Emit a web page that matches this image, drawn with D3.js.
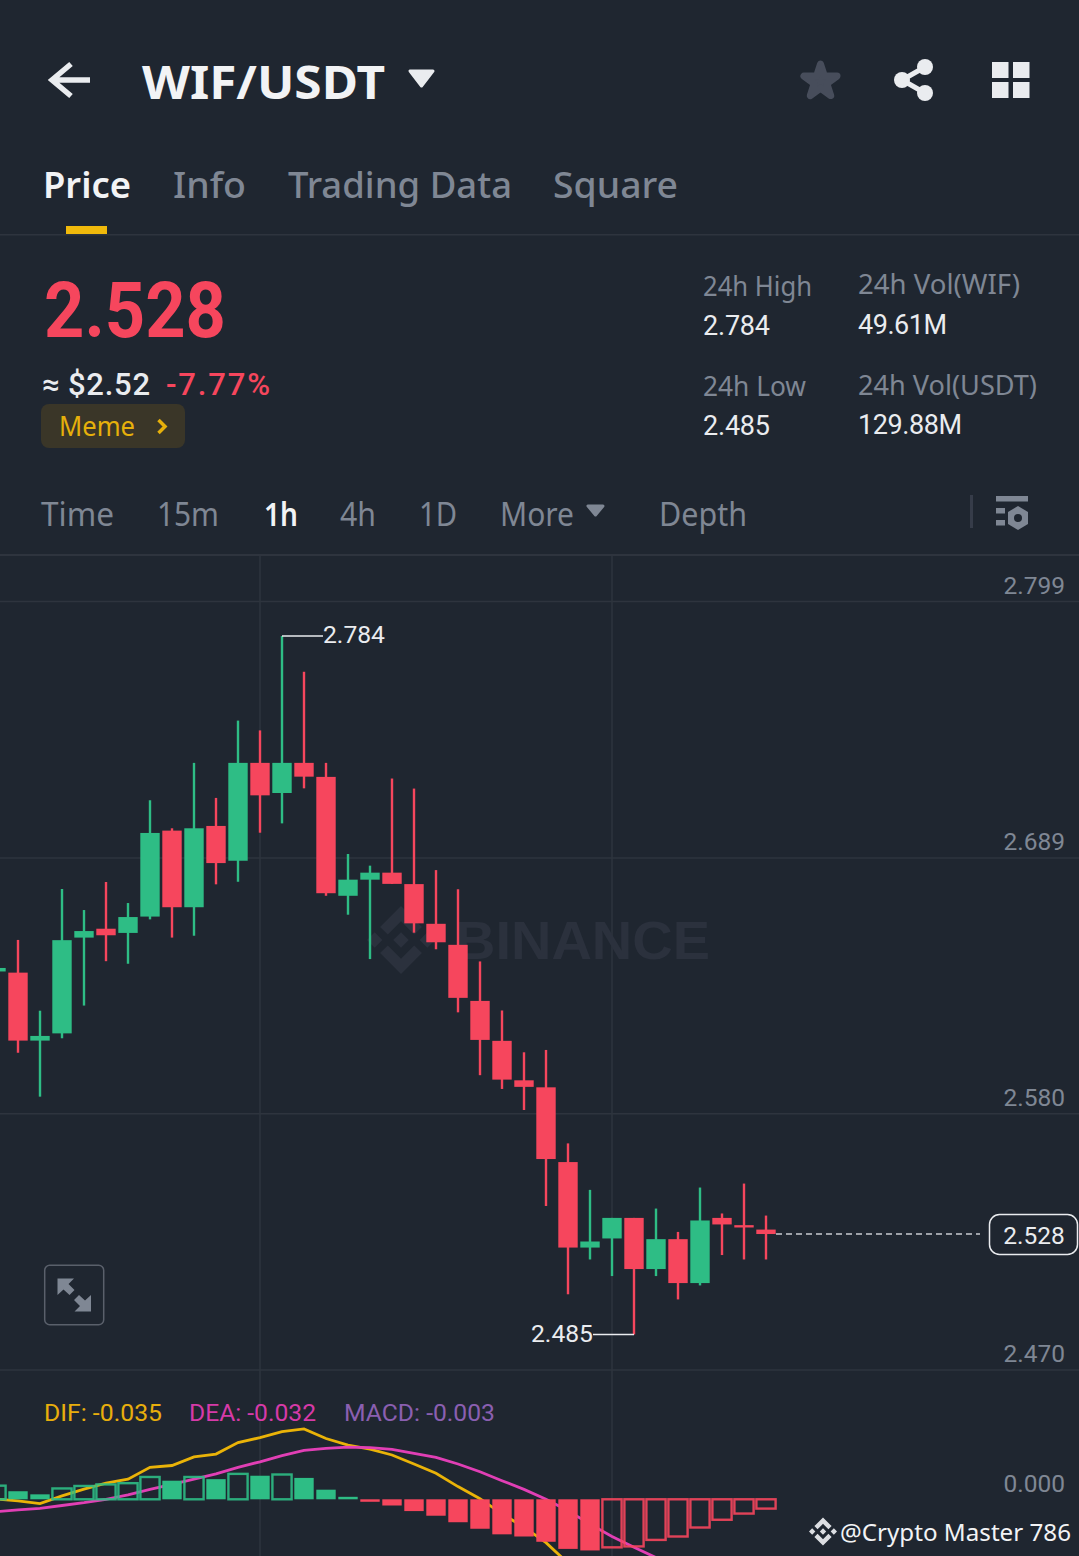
<!DOCTYPE html>
<html><head><meta charset="utf-8">
<script src="https://cdn.jsdelivr.net/npm/d3@7/dist/d3.min.js"></script>
<style>html,body{margin:0;padding:0;background:#1f2630}svg{display:block}</style></head>
<body><svg id="c" width="1079" height="1556"></svg>
<script>
// ---- candles (index 0 is the partly hidden candle at the left edge)
const opens  = [2.6404,2.6399,2.6108,2.6139,2.6549,2.6587,2.6569,2.6639,2.7007,2.6679,2.7027,2.6878,2.7297,2.7168,2.7297,2.7237,2.6728,2.6797,2.6827,2.6778,2.6608,2.6518,2.6278,2.6107,2.5938,2.5908,2.5588,2.5222,2.5261,2.5349,2.5130,2.5258,2.5070,2.5349,2.5318,2.5299];
const closes = [2.6419,2.6108,2.6128,2.6538,2.6577,2.6559,2.6637,2.6997,2.6679,2.7017,2.6868,2.7297,2.7158,2.7297,2.7238,2.6739,2.6797,2.6827,2.6779,2.6610,2.6529,2.6291,2.6111,2.5941,2.5910,2.5601,2.5222,2.5248,2.5349,2.5130,2.5258,2.5070,2.5338,2.5321,2.5308,2.5280];
const highs  = [2.6419,2.6539,2.6236,2.6757,2.6667,2.6787,2.6697,2.7137,2.7017,2.7297,2.7147,2.7478,2.7436,2.7840,2.7687,2.7297,2.6907,2.6857,2.7230,2.7187,2.6838,2.6756,2.6447,2.6237,2.6058,2.6068,2.5668,2.5469,2.5349,2.5349,2.5389,2.5289,2.5479,2.5368,2.5496,2.5359];
const lows   = [2.6404,2.6056,2.5868,2.6118,2.6258,2.6448,2.6437,2.6627,2.6549,2.6557,2.6777,2.6788,2.6998,2.7038,2.7188,2.6728,2.6647,2.6457,2.6779,2.6570,2.6499,2.6229,2.5960,2.5901,2.5811,2.5400,2.5022,2.5171,2.5100,2.4850,2.5100,2.5000,2.5060,2.5190,2.5171,2.5171];
// ---- MACD panel
const macdBars = [.0044,.0026,.0016,.0035,.0043,.0048,.0052,.0072,.0060,.0072,.0065,.0082,.0076,.0080,.0069,.0031,.0008,-.0008,-.0020,-.0038,-.0053,-.0074,-.0095,-.0113,-.0120,-.0137,-.0160,-.0165,-.0155,-.0152,-.0131,-.0120,-.0091,-.0066,-.0046,-.0030];
const difLine  = [.0001,-.0005,-.0014,.0011,.0033,.0052,.0065,.0103,.0109,.0137,.0146,.0183,.0199,.0218,.0227,.0196,.0175,.0162,.0143,.0114,.0084,.0041,.0002,-.0047,-.0090,-.0140,-.0206,-.0245];
const deaLine  = [-.0040,-.0034,-.0029,-.0020,-.0011,.0000,.0014,.0032,.0048,.0065,.0082,.0103,.0121,.0141,.0158,.0164,.0168,.0167,.0161,.0148,.0135,.0114,.0089,.0060,.0032,.0000,-.0037,-.0080,-.0120,-.0155,-.0188,-.0222];
const priceTicks = [2.799,2.6892,2.5797,2.470];
const macdTicks = [0];
const gridCandles = [12,28];
const lastPrice = 2.528, highPrice = 2.784, lowPrice = 2.485;
const highIndex = 13, lowIndex = 29;
// ---- text
const tabs = ["Price","Info","Trading Data","Square"];
const intervals = ["Time","15m","1h","4h","1D","More","Depth"];
const macdLegend = ["DIF: -0.035","DEA: -0.032","MACD: -0.003"];

const BG="#1f2630",UP="#2ebd85",DOWN="#f6465d",GREY="#7f8794",LIGHT="#eaecef",GRID="#2e343e",GOLD="#f0b90b";
const HEAD='"Noto Sans",sans-serif', NUM='Roboto,sans-serif';
const svg=d3.select("#c");
svg.append("rect").attr("width",1079).attr("height",1556).attr("fill",BG);

const x=d3.scaleLinear().domain([0,35]).range([-4,766]);
const y=d3.scaleLinear().domain([2.799,2.470]).range([601,1369.5]);
const m=d3.scaleLinear().domain([0,0.01]).range([1499.3,1468.3]);
const BW=19.4;

function t(s,px,py,size,col,o={}){
  const e=svg.append("text").attr("x",px).attr("y",py).attr("font-size",size).attr("fill",col)
    .attr("font-family",o.f||HEAD).attr("font-weight",o.w||400).attr("dominant-baseline","central")
    .attr("text-anchor",o.a||"start").text(s);
  if(o.len) e.attr("textLength",o.len).attr("lengthAdjust",o.adj||"spacingAndGlyphs");
  return e;
}
const logoPaths=["M38.73 53.2l24.59-24.58 24.6 24.6 14.3-14.31L63.32 0 24.42 38.9z","M0 63.31l14.3-14.31 14.31 14.31-14.31 14.3z","M38.73 73.41l24.59 24.59 24.6-24.6 14.31 14.29-38.9 38.91-38.91-38.88-.02-.02z","M98 63.31l14.3-14.31 14.31 14.31-14.31 14.3z","M77.83 63.3L63.32 48.78 52.59 59.51l-1.24 1.23-2.54 2.54 14.51 14.5 14.51-14.47z"];
function logo(cx,cy,size,col){
  const g=svg.append("g").attr("transform",`translate(${cx-size/2},${cy-size/2}) scale(${size/126.61})`).attr("fill",col);
  logoPaths.forEach(p=>g.append("path").attr("d",p));
}

// ---- header
svg.append("path").attr("d","M90 80H54M71 64L52 80L71 96").attr("fill","none").attr("stroke",LIGHT).attr("stroke-width",5.5);
t("WIF/USDT",142,81,46,"#f2f3f5",{w:700,len:243});
svg.append("path").attr("d","M410 71H433L421.5 86Z").attr("fill",LIGHT).attr("stroke",LIGHT).attr("stroke-width",3).attr("stroke-linejoin","round");
svg.append("path").attr("d",d3.symbol(d3.symbolStar,340)).attr("transform","translate(820.5,81.5)").attr("fill","#474d5b").attr("stroke","#474d5b").attr("stroke-width",7).attr("stroke-linejoin","round");
svg.append("path").attr("d","M925 67L902 80L925 93").attr("fill","none").attr("stroke",LIGHT).attr("stroke-width",5);
[[925,67],[902,80],[925,93]].forEach(c=>svg.append("circle").attr("cx",c[0]).attr("cy",c[1]).attr("r",8).attr("fill",LIGHT));
[[992,62],[1013,62],[992,82],[1013,82]].forEach(c=>svg.append("rect").attr("x",c[0]).attr("y",c[1]).attr("width",16.5).attr("height",16).attr("fill",LIGHT));

// ---- tabs
const tabX=[[43,88],[173,73],[288,224],[553,125]];
tabs.forEach((s,i)=>t(s,tabX[i][0],184,36,i==0?"#f2f3f5":GREY,{w:i==0?600:500,len:tabX[i][1]}));
svg.append("rect").attr("x",66).attr("y",226).attr("width",41).attr("height",8).attr("fill",GOLD);
svg.append("rect").attr("x",0).attr("y",234).attr("width",1079).attr("height",1.5).attr("fill",GRID);

// ---- price block
t(lastPrice.toFixed(3),44,311,77,DOWN,{w:700,f:NUM,len:182});
t("≈",42,384,31,LIGHT,{w:500,f:NUM});
t("$2.52",68,384,31,LIGHT,{w:500,f:NUM,len:82,adj:"spacing"});
t("-7.77%",166,384,31,DOWN,{w:500,f:NUM,len:104,adj:"spacing"});
svg.append("rect").attr("x",41).attr("y",404).attr("width",144).attr("height",44).attr("rx",8).attr("fill","#3a3628");
t("Meme",59,425,28,"#e6b00b",{len:76});
svg.append("path").attr("d","M158.5 420L165 426.5L158.5 433").attr("fill","none").attr("stroke","#e6b00b").attr("stroke-width",3.5);
t("24h High",703,285,28,GREY,{len:109});
t("2.784",703,326,27,LIGHT,{f:NUM,len:67,adj:"spacing"});
t("24h Vol(WIF)",858,283,28,GREY,{len:162});
t("49.61M",858,325,27,LIGHT,{f:NUM,len:89,adj:"spacing"});
t("24h Low",703,385,28,GREY,{len:103});
t("2.485",703,426,27,LIGHT,{f:NUM,len:67,adj:"spacing"});
t("24h Vol(USDT)",858,384,28,GREY,{len:179});
t("129.88M",858,425,27,LIGHT,{f:NUM,len:104,adj:"spacing"});

// ---- interval row
const intX=[[41,73],[157,62],[264,34],[340,36],[419,38],[500,74],[659,88]];
intervals.forEach((s,i)=>t(s,intX[i][0],513,32,i==2?"#f2f3f5":GREY,{w:i==2?600:400,len:intX[i][1]}));
svg.append("path").attr("d","M588 506H603L595.5 515Z").attr("fill",GREY).attr("stroke",GREY).attr("stroke-width",3).attr("stroke-linejoin","round");
svg.append("rect").attr("x",970).attr("y",495).attr("width",3).attr("height",33).attr("fill","#363c49");
[[996,496,32,5.5],[996,508,9,5.5],[996,520,9,5.5]].forEach(r=>svg.append("rect").attr("x",r[0]).attr("y",r[1]).attr("width",r[2]).attr("height",r[3]).attr("fill",GREY));
svg.append("path").attr("d","M1018 506L1028 512V524L1018 530L1008 524V512Z").attr("fill",GREY);
svg.append("circle").attr("cx",1018).attr("cy",518).attr("r",4).attr("fill",BG);
svg.append("rect").attr("x",0).attr("y",554).attr("width",1079).attr("height",2).attr("fill",GRID);

// ---- grid + axes
const yAxis=d3.axisLeft(y).tickValues(priceTicks).tickFormat(d3.format(".3f")).tickSize(1079);
const gy=svg.append("g").attr("transform","translate(1079,0)").call(yAxis);
gy.select(".domain").remove();
gy.selectAll("line").attr("stroke",GRID).attr("stroke-width",1.5);
gy.selectAll("text").attr("x",-14).attr("dy",-16.5).attr("dominant-baseline","central").attr("font-size",24.5).attr("font-family",NUM).attr("fill",GREY).attr("text-anchor","end");
gridCandles.forEach(i=>svg.append("line").attr("x1",x(i)).attr("x2",x(i)).attr("y1",556).attr("y2",1556).attr("stroke",GRID).attr("stroke-width",1.5));
const mAxis=d3.axisLeft(m).tickValues(macdTicks).tickFormat(d3.format(".3f")).tickSize(0);
const gm=svg.append("g").attr("transform","translate(1079,0)").call(mAxis);
gm.select(".domain").remove();
gm.selectAll("text").attr("x",-14).attr("dy",-16.5).attr("dominant-baseline","central").attr("font-size",24.5).attr("font-family",NUM).attr("fill",GREY).attr("text-anchor","end");

// ---- watermark
logo(401,940,68,"#2b313d");
t("BINANCE",455,940,54,"#2b313d",{w:700,f:'"Liberation Sans",sans-serif',len:255});

// ---- candles
const idx=d3.range(opens.length);
const col=i=>closes[i]<opens[i]?DOWN:UP;
svg.append("g").selectAll("line").data(idx).join("line")
  .attr("x1",x).attr("x2",x).attr("y1",i=>y(highs[i])).attr("y2",i=>y(lows[i]))
  .attr("stroke",col).attr("stroke-width",2.4);
svg.append("g").selectAll("rect").data(idx).join("rect")
  .attr("x",i=>x(i)-BW/2).attr("width",BW)
  .attr("y",i=>y(Math.max(opens[i],closes[i])))
  .attr("height",i=>Math.max(1.5,Math.abs(y(opens[i])-y(closes[i]))))
  .attr("fill",col);

// ---- high / low callouts
svg.append("path").attr("d",`M${x(highIndex)} ${y(highPrice)}H323`).attr("stroke",LIGHT).attr("stroke-width",1.5).attr("fill","none");
t(highPrice.toFixed(3),323,634,24.5,LIGHT,{f:NUM,len:62});
svg.append("path").attr("d",`M593 ${y(lowPrice)}H${x(lowIndex)}`).attr("stroke",LIGHT).attr("stroke-width",1.5).attr("fill","none");
t(lowPrice.toFixed(3),531,1333,24.5,LIGHT,{f:NUM,len:62});

// ---- last price
svg.append("line").attr("x1",776).attr("x2",980).attr("y1",y(lastPrice)).attr("y2",y(lastPrice)).attr("stroke","#c9ccd1").attr("stroke-width",1.5).attr("stroke-dasharray","6 4");
svg.append("rect").attr("x",989.5).attr("y",1214.5).attr("width",88).attr("height",40).attr("rx",10).attr("fill",BG).attr("stroke",LIGHT).attr("stroke-width",1.5);
t(lastPrice.toFixed(3),1034,1235,24.5,LIGHT,{f:NUM,a:"middle"});

// ---- expand button
svg.append("rect").attr("x",44.7).attr("y",1265.2).attr("width",59).attr("height",59.5).attr("rx",5).attr("fill","none").attr("stroke","#5a606b").attr("stroke-width",1.5);
svg.append("path").attr("d","M57.5 1278.5H74L68.5 1284L74.5 1290L69.5 1295L63.5 1289.5L57.5 1295Z M91 1311.5H74.5L80 1306L74 1300L79 1295L85 1300.5L91 1295Z").attr("fill","#7f8794");

// ---- MACD
t(macdLegend[0],44,1412,24.5,"#e8ae0c",{f:NUM,len:118});
t(macdLegend[1],189,1412,24.5,"#d63aa8",{f:NUM,len:127});
t(macdLegend[2],344,1412,24.5,"#8a5fb0",{f:NUM,len:151});
const lineGen=d3.line().x((d,i)=>x(i)).y(d=>m(d));
svg.append("path").attr("d",lineGen(difLine)).attr("fill","none").attr("stroke","#eab308").attr("stroke-width",2.8);
svg.append("path").attr("d",lineGen(deaLine)).attr("fill","none").attr("stroke","#e13fb5").attr("stroke-width",2.8);
const hollow=(v,i)=>i===0||v>macdBars[i-1];
const gb=svg.append("g");
macdBars.forEach((v,i)=>{
  const top=Math.min(m(v),m(0)), h=Math.max(1.5,Math.abs(m(v)-m(0))), c=v<0?DOWN:UP;
  if(hollow(v,i)) gb.append("rect").attr("x",x(i)-9.6).attr("width",19.2).attr("y",top).attr("height",h).attr("fill","none").attr("stroke",c).attr("stroke-width",2.4).attr("stroke-opacity",.9);
  else gb.append("rect").attr("x",x(i)-BW/2).attr("width",BW).attr("y",top).attr("height",h).attr("fill",c);
});

// ---- credit
logo(823,1531.5,28,"#dcdee2");
t("@Crypto Master 786",840,1531.5,24,"#f2f3f5",{len:231});
</script></body></html>
